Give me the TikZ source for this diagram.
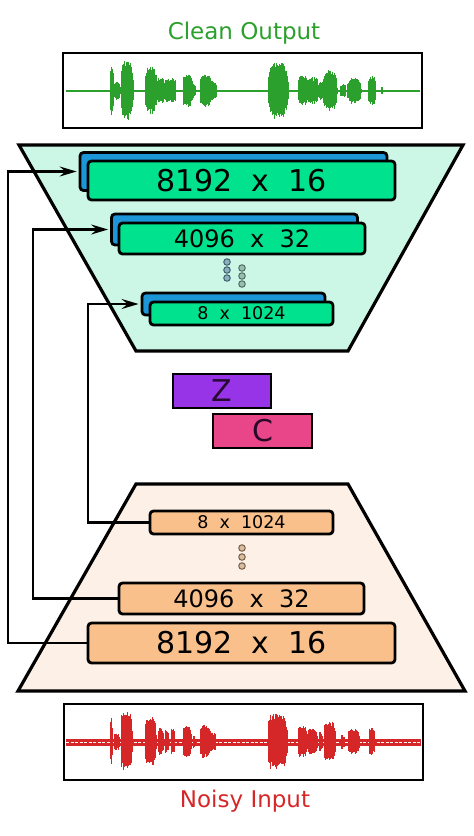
\documentclass[tikz,border=0pt]{standalone}
\usepackage{fontspec}
\setmainfont{DejaVu Sans}
\usetikzlibrary{arrows.meta,calc}
\definecolor{cleangreen}{RGB}{44,160,44}
\definecolor{noisyred}{RGB}{214,39,40}
\definecolor{mint}{RGB}{204,247,230}
\definecolor{peach}{RGB}{253,240,230}
\definecolor{blkgreen}{RGB}{0,226,142}
\definecolor{blkblue}{RGB}{28,150,214}
\definecolor{blkorange}{RGB}{250,192,140}
\definecolor{zpurple}{RGB}{152,52,232}
\definecolor{cpink}{RGB}{232,70,136}
\definecolor{dotblue}{RGB}{90,140,160}
\definecolor{dotgreen}{RGB}{110,160,140}
\definecolor{dottan}{RGB}{200,160,120}
\newcommand\wvburst[4]{%
  \pgfmathtruncatemacro\wvn{2*#2/0.45}%
  \foreach \k in {0,...,\wvn}{%
    \pgfmathsetmacro\wvx{#1-#2+\k*0.45}%
    \pgfmathsetmacro\wvt{(\wvx-#1)/#2}%
    \pgfmathsetmacro\wva{#3*sqrt(max(0,1-\wvt*\wvt*\wvt*\wvt))*(0.72+0.28*rnd)}%
    \pgfmathsetmacro\wvb{\wva*(0.8+0.2*rnd)}%
    \draw (\wvx,#4-\wva) -- (\wvx,#4+\wvb);
  }}
\newcommand\wvall[2]{% #1 y centre, #2 x shift
  \wvburst{111.7+#2}{1.8}{27}{#1}
  \wvburst{117+#2}{3.5}{9}{#1}
  \wvburst{127+#2}{6.5}{31}{#1}
  \wvburst{151+#2}{6.5}{25}{#1}
  \wvburst{161+#2}{3.5}{14}{#1}
  \wvburst{167+#2}{3}{12}{#1}
  \wvburst{173+#2}{3}{13}{#1}
  \wvburst{187.5+#2}{5}{17}{#1}
  \wvburst{194+#2}{2}{7}{#1}
  \wvburst{206+#2}{6.5}{17}{#1}
  \wvburst{213+#2}{4}{10}{#1}
  \wvburst{278+#2}{10.5}{29}{#1}
  \wvburst{303+#2}{5.5}{16}{#1}
  \wvburst{313+#2}{5.5}{14}{#1}
  \wvburst{321+#2}{3}{10}{#1}
  \wvburst{330+#2}{7}{21}{#1}
  \wvburst{343+#2}{3}{7}{#1}
  \wvburst{354+#2}{7}{13}{#1}
  \wvburst{372+#2}{4}{15}{#1}
  \wvburst{382+#2}{1}{4}{#1}
}
\begin{document}
\begin{tikzpicture}[x=1pt,y=-1pt,
  trap/.style={draw=black,line width=3.2pt,line join=miter},
  blk/.style={draw=black,line width=2.8pt,rounded corners=3.5pt,inner sep=0pt},
  frame/.style={draw=black,line width=2.6pt,fill=white},
  conn/.style={draw=black,line width=2.2pt},
  arr/.style={-{Stealth[length=17pt,width=10pt,inset=6pt]},shorten >=2pt},
  wdot/.style={circle,draw,line width=1pt,minimum size=6.5pt,inner sep=0pt},
  big/.style={font=\fontsize{30}{30}\selectfont},
  mid/.style={font=\fontsize{24}{24}\selectfont},
  small/.style={font=\fontsize{17.5}{17.5}\selectfont},
  title/.style={font=\fontsize{23}{23}\selectfont}]
\useasboundingbox (0,0) rectangle (474,836);
\pgfmathsetseed{7}
% titles
\node[title,text=cleangreen] (tout) at (244,33) {Clean Output};
\node[title,text=noisyred] (tin) at (245,801) {Noisy Input};
% waveform frames
\draw[frame] (63,53) rectangle (422,128);
\draw[frame] (64,704) rectangle (423,780);
\begin{scope}[cleangreen,line width=0.9pt]
  \draw[line width=1.2pt] (65.5,91) -- (419.5,91);
  \wvall{91}{0}
\end{scope}
\begin{scope}[noisyred,line width=0.9pt]
  \fill (66,738.5) rectangle (421,745.5);
  \draw[white,line width=0.6pt,dash pattern=on 3pt off 1.5pt] (66,742) -- (421,742);
  \wvall{742}{1}
\end{scope}
% trapezoids
\draw[trap,fill=mint] (19,145) -- (463,145) -- (348,351) -- (136,351) -- cycle;
\draw[trap,fill=peach] (136,484) -- (348,484) -- (465,691) -- (18,691) -- cycle;
% decoder blocks
\node[blk,fill=blkblue,minimum width=307pt,minimum height=38pt] (d1b) at (233.5,171.5) {};
\node[blk,fill=blkgreen,minimum width=307pt,minimum height=39pt,big] (d1) at (241.5,180.5) {8192~~x~~16};
\node[blk,fill=blkblue,minimum width=246pt,minimum height=31pt] (d2b) at (234.5,229.5) {};
\node[blk,fill=blkgreen,minimum width=246pt,minimum height=31pt,mid] (d2) at (242,238.5) {4096~~x~~32};
\node[blk,fill=blkblue,minimum width=183pt,minimum height=22pt] (d3b) at (233.5,304) {};
\node[blk,fill=blkgreen,minimum width=183pt,minimum height=23pt,small] (d3) at (241.5,313.5) {8~~x~~1024};
% decoder dots
\foreach \yy/\nm in {262/a,270/b,278/c}
  \node[wdot,draw=dotblue!70!black,fill=dotblue!70] (dl\nm) at (227,\yy) {};
\foreach \yy/\nm in {268/a,276/b,284/c}
  \node[wdot,draw=dotgreen!70!black,fill=dotgreen!70] (dr\nm) at (242,\yy) {};
% latent
\node[draw=black,line width=2.8pt,fill=zpurple,minimum width=98pt,minimum height=34pt,inner sep=0pt,big,text={rgb,255:red,40;green,10;blue,50}] (z) at (222,391) {Z};
\node[draw=black,line width=2.8pt,fill=cpink,minimum width=99pt,minimum height=34pt,inner sep=0pt,big,text={rgb,255:red,40;green,10;blue,40}] (c) at (262.5,431) {C};
% encoder blocks
\node[blk,fill=blkorange,minimum width=183pt,minimum height=23pt,small] (e3) at (241.5,522.5) {8~~x~~1024};
\node[blk,fill=blkorange,minimum width=245pt,minimum height=31pt,mid] (e2) at (241.5,598.5) {4096~~x~~32};
\node[blk,fill=blkorange,minimum width=307pt,minimum height=40pt,big] (e1) at (241.5,643) {8192~~x~~16};
% encoder dots
\foreach \yy/\nm in {548/a,557/b,566/c}
  \node[wdot,draw=dottan!60!black,fill=dottan!70] (ed\nm) at (242,\yy) {};
% skip connections
\coordinate (k1) at (8,0);
\coordinate (k2) at (33,0);
\coordinate (k3) at (88,0);
\draw[conn,arr] (e1.west) -- (e1.west -| k1) |- (d1b.west);
\draw[conn,arr] (e2.west) -- (e2.west -| k2) |- (d2b.west);
\draw[conn,arr] (e3.west) -- (e3.west -| k3) |- (d3b.west);
\end{tikzpicture}
\end{document}
